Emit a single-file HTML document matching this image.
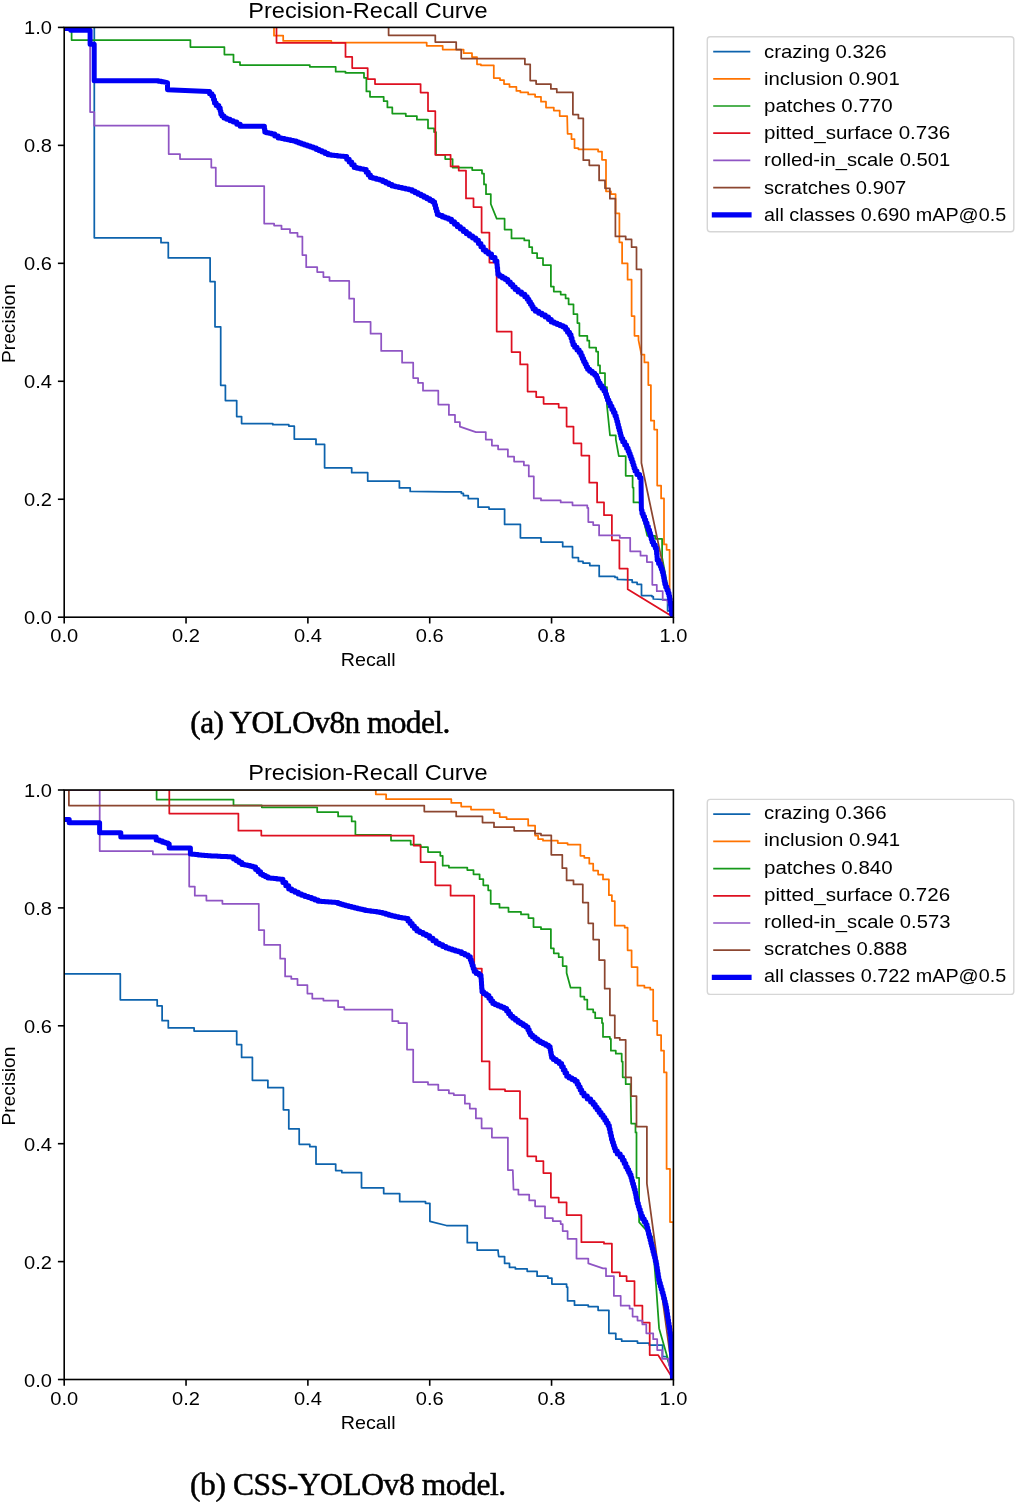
<!DOCTYPE html>
<html><head><meta charset="utf-8"><style>
html,body{margin:0;padding:0;background:#fff;width:1016px;height:1502px;overflow:hidden;}
svg{display:block;} text{-webkit-font-smoothing:antialiased;}
</style></head><body>
<svg width="1016" height="1502" viewBox="0 0 1016 1502" style="will-change:transform">
<rect width="1016" height="1502" fill="#fff"/>
<g><text transform="translate(367.90,17.80) scale(1.07,1)" font-size="22.0" text-anchor="middle" font-family='"Liberation Sans", sans-serif' >Precision-Recall Curve</text><clipPath id="clip0"><rect x="64.2" y="27.4" width="609.1999999999999" height="589.8000000000001"/></clipPath><g clip-path="url(#clip0)"><polyline points="64.2,27.2 94.3,27.2 94.3,237.8 157.0,237.8 161.0,237.8 161.0,242.7 164.0,242.7 168.3,242.7 168.3,247.6 168.3,257.9 210.1,257.9 210.1,281.5 215.0,281.5 215.0,326.8 220.7,326.8 220.7,385.3 225.4,385.3 225.4,400.6 236.7,400.6 236.7,416.6 241.6,416.6 241.6,423.5 272.8,423.5 272.8,424.7 288.8,424.7 288.8,426.0 294.3,426.0 294.3,439.0 316.0,439.0 316.0,444.4 324.6,444.4 324.6,467.8 351.7,467.8 351.7,472.7 367.7,472.7 367.7,481.0 399.4,481.0 399.4,487.9 410.2,487.9 410.2,491.4 445.7,491.8 461.4,491.8 461.4,493.4 463.4,493.4 463.4,495.7 468.3,495.7 468.3,498.7 478.1,498.7 478.1,507.2 489.0,507.2 489.0,509.1 504.6,509.1 504.6,510.6 504.6,524.4 520.4,524.4 520.4,537.8 541.0,537.8 541.0,542.1 562.7,542.1 562.7,546.7 572.5,546.7 572.5,557.5 578.4,557.5 578.4,561.4 583.0,561.4 583.0,563.1 589.8,563.1 589.8,565.6 599.2,565.6 599.2,576.4 615.0,576.4 615.0,577.4 617.4,577.4 617.4,579.4 630.2,579.9 632.2,579.9 632.2,582.3 637.1,582.3 637.1,584.3 641.5,584.3 641.5,595.6 651.9,595.6 651.9,596.6 653.3,596.6 653.3,599.0 662.7,599.5 667.6,599.5 667.6,610.9 673.4,610.9 673.4,617.2" fill="none" stroke="#0d63ad" stroke-width="1.75" stroke-linejoin="round" stroke-linecap="square"/><polyline points="64.2,27.0 274.0,27.0 274.0,35.7 283.2,35.7 283.2,40.9 331.3,40.9 331.3,42.6 426.7,42.6 426.7,45.8 442.7,45.8 442.7,49.5 463.6,49.5 463.6,53.2 472.0,53.2 472.0,57.0 477.0,57.0 477.0,64.3 480.9,64.3 480.9,65.3 493.8,65.3 493.8,78.0 500.0,78.0 500.0,80.0 504.0,80.0 504.0,84.0 509.5,84.0 509.5,86.9 516.4,86.9 516.4,90.9 520.4,90.9 520.4,92.4 528.2,92.4 528.2,94.4 535.1,94.4 535.1,96.8 541.0,96.8 541.0,101.7 546.0,101.7 546.0,107.6 553.8,107.6 553.8,110.6 559.7,110.6 559.7,116.0 567.2,116.0 567.2,116.9 567.6,133.8 571.5,133.8 571.5,139.1 574.5,139.1 574.5,148.0 578.4,148.0 578.4,149.3 598.1,149.3 598.1,151.5 602.0,151.5 602.0,159.8 606.0,159.8 606.0,191.3 610.9,191.3 610.9,194.2 615.6,194.2 615.6,213.4 619.4,213.4 619.4,242.3 622.1,242.3 622.1,263.4 627.6,263.4 627.6,279.7 631.6,279.7 631.6,316.1 634.5,316.1 634.5,335.8 638.5,335.8 638.5,340.2 641.4,354.5 644.4,354.5 644.4,362.4 648.3,362.4 648.3,385.0 650.9,385.0 650.9,420.7 654.2,420.7 654.2,429.5 657.2,429.5 657.2,485.6 661.1,485.6 661.1,498.4 664.0,498.4 664.0,544.4 666.6,544.4 666.6,549.8 669.6,549.8 669.6,595.1 673.4,617.2" fill="none" stroke="#ff7300" stroke-width="1.75" stroke-linejoin="round" stroke-linecap="square"/><polyline points="64.2,27.2 71.6,27.2 71.6,40.1 190.4,40.1 190.4,47.0 224.4,47.0 224.4,54.5 233.5,54.5 233.5,62.0 240.0,62.0 240.0,65.0 309.8,65.0 309.8,66.8 335.7,66.8 335.7,71.7 345.5,71.7 345.5,72.9 364.0,72.9 364.0,77.8 366.4,77.8 366.4,91.4 370.0,91.4 370.0,96.8 383.7,96.8 383.7,101.2 387.4,101.2 387.4,107.4 392.3,107.4 392.3,113.5 405.8,113.5 405.8,116.0 416.9,116.0 416.9,119.7 428.0,119.7 428.0,128.3 434.1,128.3 434.1,132.0 436.0,132.0 436.0,154.8 445.2,154.8 445.2,159.0 452.6,159.0 452.6,167.6 472.2,167.6 472.2,170.0 482.0,170.0 482.0,173.5 484.0,173.5 484.0,184.4 486.0,184.4 486.0,194.2 490.8,194.2 490.8,204.0 496.7,218.7 504.6,218.7 504.6,229.5 511.5,229.5 511.5,238.4 524.3,238.4 524.3,240.4 529.2,240.4 529.2,247.2 532.2,247.2 532.2,253.1 537.1,253.1 537.1,258.0 543.0,258.0 543.0,265.0 550.9,265.0 550.9,268.9 550.9,286.6 553.8,286.6 553.8,291.5 560.7,291.5 560.7,294.5 565.6,294.5 565.6,298.4 568.6,298.4 568.6,304.3 573.5,304.3 573.5,314.2 577.4,314.2 577.4,323.0 579.4,323.0 579.4,335.8 587.3,335.8 587.3,340.7 589.3,340.7 589.3,347.6 596.1,347.6 596.1,351.6 598.1,351.6 598.1,365.4 600.0,365.4 600.0,373.2 605.0,373.2 605.0,379.0 605.0,387.0 607.0,387.0 607.0,406.0 610.0,435.4 615.8,435.4 615.8,439.4 618.8,456.1 625.7,456.1 625.7,475.8 632.6,475.8 632.6,487.6 633.5,487.6 633.5,502.4 639.4,502.4 647.3,535.8 655.2,535.8 655.2,538.8 662.1,538.8 662.1,543.7 662.1,557.5 673.4,617.2" fill="none" stroke="#16991a" stroke-width="1.75" stroke-linejoin="round" stroke-linecap="square"/><polyline points="64.2,27.0 276.5,27.0 276.5,42.8 345.5,42.8 345.5,56.9 352.2,56.9 352.2,68.0 367.7,68.0 367.7,79.0 375.0,79.0 375.0,84.0 420.6,84.0 420.6,92.6 428.0,92.6 428.0,111.0 435.3,111.0 435.3,154.8 450.6,154.8 450.6,166.4 458.7,166.4 458.7,170.6 466.0,170.6 466.0,198.4 473.5,198.4 473.5,207.0 481.6,207.0 481.6,232.5 489.4,232.5 489.4,262.6 496.7,262.6 496.7,331.5 511.6,331.5 511.6,333.7 511.6,352.1 520.2,352.1 520.2,364.4 527.6,364.4 527.6,391.5 536.2,391.5 536.2,397.1 543.6,397.1 543.6,403.8 558.7,403.8 558.7,407.5 566.6,407.5 566.6,426.6 573.5,426.6 573.5,443.3 581.4,443.3 581.4,455.5 589.3,455.5 589.3,482.7 597.1,482.7 597.1,502.4 604.0,502.4 604.0,515.2 611.9,515.2 611.9,540.3 619.4,540.3 619.4,568.5 627.7,568.5 627.7,589.2 673.4,617.2" fill="none" stroke="#de1020" stroke-width="1.75" stroke-linejoin="round" stroke-linecap="square"/><polyline points="64.2,27.2 90.1,27.2 90.1,112.1 94.3,112.1 94.3,125.7 168.7,125.7 168.7,154.0 180.0,154.0 180.0,159.0 211.3,159.0 211.3,167.6 215.8,167.6 215.8,186.0 264.2,186.0 264.2,223.5 274.1,223.5 274.1,225.5 281.5,225.5 281.5,229.2 290.0,229.2 290.0,232.8 297.5,232.8 297.5,236.5 302.4,236.5 302.4,237.8 302.4,255.0 306.2,255.0 306.2,267.2 317.2,267.2 317.2,272.1 323.4,272.1 323.4,277.1 329.5,277.1 329.5,280.8 349.2,280.8 349.2,298.7 354.1,298.7 354.1,321.9 370.6,321.9 370.6,333.7 381.2,333.7 381.2,350.9 397.2,350.9 402.1,350.9 402.1,355.8 402.1,362.7 413.2,362.7 413.2,378.0 418.1,378.0 418.1,382.9 423.0,382.9 423.0,390.7 438.3,390.7 438.3,404.5 448.9,404.5 448.9,414.9 455.0,414.9 455.0,422.2 459.9,422.2 459.9,426.7 475.9,432.1 485.8,432.1 485.8,439.5 491.9,439.5 491.9,445.6 498.1,445.6 498.1,449.3 507.9,449.3 507.9,456.7 514.1,456.7 514.1,461.6 523.9,461.6 523.9,465.3 528.8,465.3 528.8,476.4 533.8,476.4 533.8,498.4 541.0,498.4 541.0,500.4 560.7,500.4 560.7,502.4 572.5,502.4 572.5,505.3 587.3,505.3 587.3,507.9 588.3,507.9 588.3,522.0 593.2,522.0 593.2,525.0 599.1,525.0 599.1,535.4 619.8,535.4 619.8,537.8 630.2,537.8 630.2,540.7 630.2,551.3 640.5,551.3 640.5,555.7 646.9,555.7 646.9,562.1 652.3,562.1 652.3,584.8 656.8,584.8 656.8,591.2 662.7,591.2 662.7,600.0 667.1,600.0 673.4,617.2" fill="none" stroke="#8f55c4" stroke-width="1.75" stroke-linejoin="round" stroke-linecap="square"/><polyline points="64.2,27.0 388.6,27.0 388.6,35.3 435.3,35.3 435.3,42.1 456.2,42.1 456.2,49.5 461.2,49.5 461.2,58.5 524.9,58.5 524.9,64.3 530.2,64.3 530.2,80.6 536.1,80.6 536.1,84.0 550.9,84.0 550.9,88.9 556.8,88.9 556.8,92.4 572.9,92.4 572.9,114.5 578.4,114.5 578.4,118.4 583.3,118.4 583.3,160.2 589.3,160.2 589.3,165.3 599.1,165.3 599.1,180.4 605.0,180.4 605.0,188.3 609.9,188.3 609.9,198.7 615.4,198.7 615.4,236.4 625.7,236.4 625.7,239.4 631.6,239.4 631.6,247.2 636.5,247.2 636.5,269.3 641.4,269.3 641.4,463.0 662.1,561.4 673.4,617.2" fill="none" stroke="#8c4630" stroke-width="1.75" stroke-linejoin="round" stroke-linecap="square"/><polyline points="64.2,28.5 70.0,28.5 70.8,28.5 70.8,30.2 71.5,30.2 90.1,30.2 90.1,44.2 94.2,44.2 94.2,80.8 156.8,80.8 158.4,80.8 158.4,81.3 161.4,81.3 161.4,81.8 163.0,81.8 167.5,82.6 167.5,89.7 208.5,91.4 209.6,91.4 209.6,93.7 211.9,93.7 211.9,96.0 213.0,96.0 213.5,96.0 213.5,99.5 214.5,99.5 214.5,103.0 215.0,103.0 216.2,103.0 216.2,105.5 218.8,105.5 218.8,108.0 220.0,108.0 220.2,108.0 220.2,111.0 220.8,111.0 220.8,114.0 221.0,114.0 222.0,114.0 222.0,116.0 224.0,116.0 224.0,118.0 225.0,118.0 226.7,118.0 226.7,119.3 230.0,119.3 230.0,120.7 233.3,120.7 233.3,122.0 235.0,122.0 236.8,122.0 236.8,124.2 240.2,124.2 240.2,126.3 242.0,126.3 264.2,126.3 264.4,126.3 264.4,129.2 264.8,129.2 264.8,132.0 265.0,132.0 266.3,132.0 266.3,132.7 269.0,132.7 269.0,133.3 271.7,133.3 271.7,134.0 273.0,134.0 274.8,134.0 274.8,136.0 278.2,136.0 278.2,138.0 280.0,138.0 281.5,138.0 281.5,138.6 284.5,138.6 284.5,139.2 287.5,139.2 287.5,139.8 290.5,139.8 290.5,140.4 293.5,140.4 293.5,141.0 295.0,141.0 296.2,141.0 296.2,142.0 298.8,142.0 298.8,143.0 300.0,143.0 301.5,143.0 301.5,144.0 304.4,144.0 304.4,145.0 307.4,145.0 307.4,146.0 310.4,146.0 310.4,147.0 313.3,147.0 313.3,148.0 314.8,148.0 316.3,148.0 316.3,149.4 319.2,149.4 319.2,150.7 322.1,150.7 322.1,152.1 325.1,152.1 325.1,153.4 328.0,153.4 328.0,154.8 329.5,154.8 331.1,154.8 331.1,155.2 334.3,155.2 334.3,155.5 337.5,155.5 337.5,155.9 340.7,155.9 340.7,156.2 343.9,156.2 343.9,156.6 345.5,156.6 346.7,156.6 346.7,159.3 349.2,159.3 349.2,162.1 351.7,162.1 351.7,164.8 354.2,164.8 354.2,167.6 355.4,167.6 357.0,167.6 357.0,168.3 360.3,168.3 360.3,168.9 363.6,168.9 363.6,169.6 365.2,169.6 366.2,169.6 366.2,172.2 368.3,172.2 368.3,174.9 370.4,174.9 370.4,177.5 371.4,177.5 373.0,177.5 373.0,178.3 376.3,178.3 376.3,179.2 379.6,179.2 379.6,180.0 381.2,180.0 382.7,180.0 382.7,181.5 385.8,181.5 385.8,183.0 388.9,183.0 388.9,184.5 392.0,184.5 392.0,186.0 393.5,186.0 395.2,186.0 395.2,186.8 398.7,186.8 398.7,187.5 402.1,187.5 402.1,188.3 405.5,188.3 405.5,189.0 409.0,189.0 409.0,189.8 410.7,189.8 412.2,189.8 412.2,191.3 415.1,191.3 415.1,192.8 418.1,192.8 418.1,194.2 421.1,194.2 421.1,195.7 424.0,195.7 424.0,197.2 425.5,197.2 426.9,197.2 426.9,198.8 429.8,198.8 429.8,200.4 432.7,200.4 432.7,202.0 434.1,202.0 434.6,202.0 434.6,205.1 435.5,205.1 435.5,208.2 436.4,208.2 436.4,211.3 437.3,211.3 437.3,214.4 437.8,214.4 439.3,214.4 439.3,215.6 442.4,215.6 442.4,216.9 445.4,216.9 445.4,218.1 448.5,218.1 448.5,219.3 450.0,219.3 451.5,219.3 451.5,221.8 454.5,221.8 454.5,224.2 457.4,224.2 457.4,226.7 460.4,226.7 460.4,229.1 463.4,229.1 463.4,231.6 464.9,231.6 466.4,231.6 466.4,233.8 469.5,233.8 469.5,235.9 472.6,235.9 472.6,238.0 475.7,238.0 475.7,240.2 477.2,240.2 478.4,240.2 478.4,243.5 480.9,243.5 480.9,246.7 483.3,246.7 483.3,250.0 484.5,250.0 485.8,250.0 485.8,252.1 488.5,252.1 488.5,254.1 489.8,254.1 491.5,254.1 491.5,257.6 495.0,257.6 495.0,261.0 496.7,261.0 496.9,261.0 496.9,264.4 497.2,264.4 497.2,267.8 497.6,267.8 497.6,271.2 497.9,271.2 497.9,274.6 498.1,274.6 499.5,274.6 499.5,276.2 502.4,276.2 502.4,277.9 505.3,277.9 505.3,279.5 506.7,279.5 507.9,279.5 507.9,282.1 510.3,282.1 510.3,284.6 511.5,284.6 512.8,284.6 512.8,287.0 515.2,287.0 515.2,289.4 516.5,289.4 518.1,289.4 518.1,291.9 521.5,291.9 521.5,294.3 524.8,294.3 524.8,296.8 526.4,296.8 527.2,296.8 527.2,299.3 528.8,299.3 528.8,301.8 530.4,301.8 530.4,304.3 531.2,304.3 531.9,304.3 531.9,306.6 533.1,306.6 533.1,309.0 533.8,309.0 535.4,309.0 535.4,311.2 537.0,311.2 538.7,311.2 538.7,313.2 542.0,313.2 542.0,315.1 545.3,315.1 545.3,317.1 547.0,317.1 548.5,317.1 548.5,319.6 551.3,319.6 551.3,322.0 552.8,322.0 554.3,322.0 554.3,323.2 557.2,323.2 557.2,324.5 560.2,324.5 560.2,325.8 563.1,325.8 563.1,327.0 564.6,327.0 565.6,327.0 565.6,329.6 567.5,329.6 567.5,332.2 569.5,332.2 569.5,334.8 570.5,334.8 571.0,334.8 571.0,338.1 572.0,338.1 572.0,341.4 573.0,341.4 573.0,344.7 573.5,344.7 574.6,344.7 574.6,347.3 577.0,347.3 577.0,350.0 579.2,350.0 579.2,352.6 580.4,352.6 581.0,352.6 581.0,355.5 582.3,355.5 582.3,358.5 583.6,358.5 583.6,361.4 584.3,361.4 585.0,361.4 585.0,364.0 586.3,364.0 586.3,366.7 587.6,366.7 587.6,369.3 588.3,369.3 589.6,369.3 589.6,371.3 592.2,371.3 592.2,373.2 594.8,373.2 594.8,375.2 596.1,375.2 596.6,375.2 596.6,377.8 597.6,377.8 597.6,380.4 598.6,380.4 598.6,383.0 599.1,383.0 600.1,383.0 600.1,385.7 602.0,385.7 602.0,388.3 604.0,388.3 604.0,391.0 605.0,391.0 605.5,391.0 605.5,394.0 606.5,394.0 606.5,397.0 607.5,397.0 607.5,400.0 608.0,400.0 608.8,400.0 608.8,403.1 610.3,403.1 610.3,406.3 611.9,406.3 611.9,409.4 613.5,409.4 613.5,412.6 615.0,412.6 615.0,415.7 615.8,415.7 616.2,415.7 616.2,418.7 616.9,418.7 616.9,421.6 617.7,421.6 617.7,424.6 618.4,424.6 618.4,427.6 618.8,427.6 619.2,427.6 619.2,430.3 619.9,430.3 619.9,433.0 620.6,433.0 620.6,435.7 621.3,435.7 621.3,438.4 621.7,438.4 622.7,438.4 622.7,441.7 624.7,441.7 624.7,444.9 626.6,444.9 626.6,448.2 627.6,448.2 628.1,448.2 628.1,450.9 629.1,450.9 629.1,453.6 630.1,453.6 630.1,456.3 631.1,456.3 631.1,459.0 631.6,459.0 632.1,459.0 632.1,462.0 633.1,462.0 633.1,464.9 634.0,464.9 634.0,467.9 635.0,467.9 635.0,470.9 635.5,470.9 636.9,470.9 636.9,474.4 639.6,474.4 639.6,477.8 641.0,477.8 641.4,510.2 642.0,510.2 642.0,513.4 643.2,513.4 643.2,516.6 644.5,516.6 644.5,519.8 645.7,519.8 645.7,523.0 646.3,523.0 647.0,523.0 647.0,526.5 648.3,526.5 648.3,530.0 649.0,530.0 649.5,530.0 649.5,533.0 650.4,533.0 650.4,536.0 651.2,536.0 651.2,539.0 652.1,539.0 652.1,542.0 652.6,542.0 653.5,542.0 653.5,545.0 655.3,545.0 655.3,548.0 656.2,548.0 656.4,548.0 656.4,551.0 656.6,551.0 656.6,554.0 657.0,554.0 657.0,557.0 657.2,557.0 657.2,560.0 657.4,560.0 658.6,560.0 658.6,563.5 659.8,563.5 660.3,563.5 660.3,566.3 661.3,566.3 661.3,569.1 662.3,569.1 662.3,571.9 662.8,571.9 663.1,571.9 663.1,574.9 663.7,574.9 663.7,577.9 664.2,577.9 664.2,580.9 664.8,580.9 664.8,583.9 665.1,583.9 665.7,583.9 665.7,586.9 666.9,586.9 666.9,589.9 668.1,589.9 668.1,592.9 668.7,592.9 669.0,592.9 669.0,595.9 669.6,595.9 669.6,598.9 670.2,598.9 670.2,601.9 670.5,601.9 670.6,601.9 670.6,604.9 671.0,604.9 671.0,607.8 671.2,607.8 671.2,610.8 671.6,610.8 671.6,613.8 671.7,613.8 672.5,613.8 672.5,617.2 673.4,617.2" fill="none" stroke="#0000f5" stroke-width="5.0" stroke-linejoin="round" stroke-linecap="square"/></g><rect x="64.2" y="27.4" width="609.1999999999999" height="589.8000000000001" fill="none" stroke="#000" stroke-width="1.6"/><line x1="64.20" y1="617.2" x2="64.20" y2="623.5" stroke="#000" stroke-width="1.6"/><line x1="57.900000000000006" y1="617.20" x2="64.2" y2="617.20" stroke="#000" stroke-width="1.6"/><text transform="translate(64.20,642.20) scale(1.08,1)" font-size="18.6" text-anchor="middle" font-family='"Liberation Sans", sans-serif' >0.0</text><text transform="translate(52.00,624.20) scale(1.08,1)" font-size="18.6" text-anchor="end" font-family='"Liberation Sans", sans-serif' >0.0</text><line x1="186.04" y1="617.2" x2="186.04" y2="623.5" stroke="#000" stroke-width="1.6"/><line x1="57.900000000000006" y1="499.24" x2="64.2" y2="499.24" stroke="#000" stroke-width="1.6"/><text transform="translate(186.04,642.20) scale(1.08,1)" font-size="18.6" text-anchor="middle" font-family='"Liberation Sans", sans-serif' >0.2</text><text transform="translate(52.00,506.24) scale(1.08,1)" font-size="18.6" text-anchor="end" font-family='"Liberation Sans", sans-serif' >0.2</text><line x1="307.88" y1="617.2" x2="307.88" y2="623.5" stroke="#000" stroke-width="1.6"/><line x1="57.900000000000006" y1="381.28" x2="64.2" y2="381.28" stroke="#000" stroke-width="1.6"/><text transform="translate(307.88,642.20) scale(1.08,1)" font-size="18.6" text-anchor="middle" font-family='"Liberation Sans", sans-serif' >0.4</text><text transform="translate(52.00,388.28) scale(1.08,1)" font-size="18.6" text-anchor="end" font-family='"Liberation Sans", sans-serif' >0.4</text><line x1="429.72" y1="617.2" x2="429.72" y2="623.5" stroke="#000" stroke-width="1.6"/><line x1="57.900000000000006" y1="263.32" x2="64.2" y2="263.32" stroke="#000" stroke-width="1.6"/><text transform="translate(429.72,642.20) scale(1.08,1)" font-size="18.6" text-anchor="middle" font-family='"Liberation Sans", sans-serif' >0.6</text><text transform="translate(52.00,270.32) scale(1.08,1)" font-size="18.6" text-anchor="end" font-family='"Liberation Sans", sans-serif' >0.6</text><line x1="551.56" y1="617.2" x2="551.56" y2="623.5" stroke="#000" stroke-width="1.6"/><line x1="57.900000000000006" y1="145.36" x2="64.2" y2="145.36" stroke="#000" stroke-width="1.6"/><text transform="translate(551.56,642.20) scale(1.08,1)" font-size="18.6" text-anchor="middle" font-family='"Liberation Sans", sans-serif' >0.8</text><text transform="translate(52.00,152.36) scale(1.08,1)" font-size="18.6" text-anchor="end" font-family='"Liberation Sans", sans-serif' >0.8</text><line x1="673.40" y1="617.2" x2="673.40" y2="623.5" stroke="#000" stroke-width="1.6"/><line x1="57.900000000000006" y1="27.40" x2="64.2" y2="27.40" stroke="#000" stroke-width="1.6"/><text transform="translate(673.40,642.20) scale(1.08,1)" font-size="18.6" text-anchor="middle" font-family='"Liberation Sans", sans-serif' >1.0</text><text transform="translate(52.00,34.40) scale(1.08,1)" font-size="18.6" text-anchor="end" font-family='"Liberation Sans", sans-serif' >1.0</text><text transform="translate(368.20,666.40) scale(1.06,1)" font-size="18.6" text-anchor="middle" font-family='"Liberation Sans", sans-serif' >Recall</text><text transform="translate(15.2,323.60) rotate(-90) scale(1.03,1)" font-size="18.6" text-anchor="middle" font-family='"Liberation Sans", sans-serif'>Precision</text><rect x="707.3" y="36.8" width="306.5" height="195" rx="3" ry="3" fill="#fff" stroke="#d6d6d6" stroke-width="1.4"/><line x1="713.2" y1="51.60" x2="750.3" y2="51.60" stroke="#0d63ad" stroke-width="1.7"/><text transform="translate(764.00,57.60) scale(1.1157,1)" font-size="18.3" text-anchor="start" font-family='"Liberation Sans", sans-serif' >crazing 0.326</text><line x1="713.2" y1="78.80" x2="750.3" y2="78.80" stroke="#ff7300" stroke-width="1.7"/><text transform="translate(764.00,84.80) scale(1.1122,1)" font-size="18.3" text-anchor="start" font-family='"Liberation Sans", sans-serif' >inclusion 0.901</text><line x1="713.2" y1="106.00" x2="750.3" y2="106.00" stroke="#16991a" stroke-width="1.7"/><text transform="translate(764.00,112.00) scale(1.1186,1)" font-size="18.3" text-anchor="start" font-family='"Liberation Sans", sans-serif' >patches 0.770</text><line x1="713.2" y1="133.20" x2="750.3" y2="133.20" stroke="#de1020" stroke-width="1.7"/><text transform="translate(764.00,139.20) scale(1.1231,1)" font-size="18.3" text-anchor="start" font-family='"Liberation Sans", sans-serif' >pitted_surface 0.736</text><line x1="713.2" y1="160.40" x2="750.3" y2="160.40" stroke="#8f55c4" stroke-width="1.7"/><text transform="translate(764.00,166.40) scale(1.1027,1)" font-size="18.3" text-anchor="start" font-family='"Liberation Sans", sans-serif' >rolled-in_scale 0.501</text><line x1="713.2" y1="187.60" x2="750.3" y2="187.60" stroke="#8c4630" stroke-width="1.7"/><text transform="translate(764.00,193.60) scale(1.1018,1)" font-size="18.3" text-anchor="start" font-family='"Liberation Sans", sans-serif' >scratches 0.907</text><line x1="711.8" y1="214.80" x2="751.6" y2="214.80" stroke="#0000f5" stroke-width="5.2"/><text transform="translate(764.00,220.80) scale(1.0818,1)" font-size="18.3" text-anchor="start" font-family='"Liberation Sans", sans-serif' >all classes 0.690 mAP@0.5</text></g><g><text transform="translate(367.90,780.40) scale(1.07,1)" font-size="22.0" text-anchor="middle" font-family='"Liberation Sans", sans-serif' >Precision-Recall Curve</text><clipPath id="clip1"><rect x="64.2" y="790.0" width="609.1999999999999" height="589.5"/></clipPath><g clip-path="url(#clip1)"><polyline points="64.2,973.9 120.3,973.9 120.3,999.8 157.2,999.8 157.2,1005.9 162.1,1005.9 162.1,1020.7 168.3,1020.7 168.3,1027.9 194.1,1027.9 194.1,1031.1 236.7,1031.1 236.7,1044.6 241.6,1044.6 241.6,1057.4 252.4,1057.4 252.4,1080.3 267.9,1080.3 267.9,1087.7 283.4,1087.7 283.4,1109.8 288.8,1109.8 288.8,1128.8 299.2,1128.8 299.2,1144.3 309.8,1144.3 309.8,1146.7 316.0,1146.7 316.0,1164.0 335.7,1164.0 335.7,1170.6 341.8,1170.6 341.8,1172.6 361.5,1172.6 361.5,1187.8 383.7,1187.8 383.7,1193.5 399.7,1193.5 399.7,1201.6 425.5,1201.6 425.5,1203.3 429.9,1203.3 429.9,1221.3 446.4,1225.5 467.3,1225.5 467.3,1242.7 477.2,1242.7 477.2,1250.1 498.1,1250.1 498.1,1251.3 498.7,1256.5 504.6,1256.5 504.6,1263.4 509.5,1263.4 509.5,1267.4 515.4,1267.4 515.4,1268.9 527.2,1268.9 527.2,1271.3 537.1,1271.3 537.1,1276.2 547.9,1276.2 547.9,1278.2 551.9,1278.2 551.9,1284.1 566.6,1284.1 566.6,1287.0 567.6,1287.0 567.6,1300.8 574.5,1300.8 574.5,1305.2 588.3,1305.2 588.3,1306.7 598.1,1306.7 598.1,1310.3 608.9,1310.3 608.9,1312.6 608.9,1333.3 615.8,1333.3 615.8,1339.2 621.7,1339.2 621.7,1341.2 637.5,1341.2 637.5,1343.1 649.3,1343.1 649.3,1345.1 662.6,1345.1 662.6,1347.1 662.6,1356.6 666.9,1356.6 673.4,1379.5" fill="none" stroke="#0d63ad" stroke-width="1.75" stroke-linejoin="round" stroke-linecap="square"/><polyline points="64.2,789.6 375.8,789.6 375.8,794.3 386.1,794.3 386.1,799.2 451.3,799.2 451.3,802.9 461.2,802.9 461.2,806.6 471.0,806.6 471.0,809.6 493.8,809.6 493.8,813.1 499.7,813.1 499.7,817.0 506.6,817.0 506.6,819.0 528.2,819.0 528.2,825.7 535.1,825.7 535.1,835.5 538.1,835.5 538.1,839.1 543.0,839.1 543.0,840.7 557.8,840.7 557.8,843.0 567.6,843.0 567.6,844.6 580.4,844.6 580.4,855.8 584.3,855.8 584.3,857.8 589.3,857.8 589.3,863.7 593.2,863.7 593.2,870.6 598.1,870.6 598.1,874.5 603.0,874.5 603.0,879.4 608.9,879.4 608.9,895.2 611.9,895.2 611.9,901.1 614.8,901.1 614.8,925.7 624.7,925.7 624.7,927.7 627.6,927.7 627.6,933.6 627.6,950.3 631.6,950.3 631.6,967.0 637.5,967.0 637.5,985.7 644.4,985.7 644.4,987.7 650.3,987.7 650.3,989.7 653.2,989.7 653.2,1020.8 657.2,1020.8 657.2,1035.0 661.1,1035.0 661.1,1050.7 664.0,1050.7 664.0,1072.4 666.6,1072.4 666.6,1168.9 670.0,1168.9 670.0,1222.1 671.9,1222.1 673.4,1222.1 673.4,1379.5" fill="none" stroke="#ff7300" stroke-width="1.75" stroke-linejoin="round" stroke-linecap="square"/><polyline points="64.2,789.6 156.6,789.6 156.6,799.5 233.5,799.5 233.5,805.4 261.8,805.4 261.8,807.3 317.2,807.3 317.2,812.0 338.1,812.0 338.1,816.4 351.7,816.4 351.7,821.4 355.4,821.4 355.4,834.9 391.0,834.9 391.0,840.6 410.7,840.6 410.7,844.7 420.6,844.7 420.6,847.2 428.0,847.2 428.0,852.1 440.3,852.1 440.3,855.8 442.7,855.8 442.7,865.7 448.9,865.7 448.9,867.6 467.3,867.6 467.3,870.1 473.5,870.1 473.5,874.3 479.6,874.3 479.6,879.2 483.3,879.2 483.3,885.3 488.2,885.3 488.2,890.3 490.7,890.3 490.7,903.8 499.5,903.8 499.5,907.7 508.5,907.7 508.5,911.9 521.0,911.9 521.0,914.4 528.5,914.4 528.5,918.2 533.5,918.2 533.5,927.0 541.0,927.0 541.0,929.2 550.9,929.2 550.9,932.6 550.9,948.3 553.8,948.3 553.8,953.3 558.7,953.3 558.7,957.2 562.7,957.2 562.7,966.0 566.6,966.0 566.6,973.0 570.6,987.7 578.4,987.7 580.4,987.7 580.4,996.6 584.3,996.6 584.3,999.5 587.3,999.5 587.3,1009.4 593.2,1009.4 593.2,1012.3 595.2,1012.3 595.2,1018.2 602.0,1018.2 602.0,1023.1 603.0,1023.1 603.0,1036.9 609.9,1036.9 609.9,1038.9 610.9,1038.9 610.9,1050.7 615.8,1050.7 615.8,1053.7 621.7,1053.7 621.7,1061.5 622.7,1061.5 622.7,1077.3 625.7,1077.3 625.7,1084.2 630.6,1084.2 630.6,1089.1 631.2,1123.5 635.5,1123.5 635.5,1132.4 636.5,1132.4 636.5,1177.8 639.1,1177.8 639.1,1222.1 652.2,1236.9 656.2,1287.0 659.1,1328.4 671.0,1369.7 673.4,1369.7 673.4,1379.5" fill="none" stroke="#16991a" stroke-width="1.75" stroke-linejoin="round" stroke-linecap="square"/><polyline points="64.2,789.6 169.3,789.6 169.3,813.5 238.4,813.5 238.4,830.7 261.3,830.7 261.3,835.6 413.7,835.6 413.7,845.5 420.6,845.5 420.6,862.0 435.3,862.0 435.3,885.3 450.6,885.3 450.6,895.7 474.2,895.7 474.2,968.5 481.8,968.5 481.8,1061.4 489.5,1061.4 489.5,1089.3 505.0,1089.3 505.0,1091.0 520.0,1091.0 520.0,1118.5 527.4,1118.5 527.4,1156.3 536.2,1156.3 536.2,1161.0 543.4,1161.0 543.4,1173.0 550.9,1173.0 550.9,1197.5 558.7,1197.5 558.7,1202.4 566.6,1202.4 566.6,1215.2 581.4,1215.2 581.4,1242.2 604.0,1242.2 604.0,1243.7 611.9,1243.7 611.9,1272.3 619.8,1272.3 619.8,1276.2 626.6,1276.2 626.6,1281.1 634.5,1281.1 634.5,1305.7 642.4,1305.7 642.4,1322.5 649.7,1322.5 649.7,1355.0 658.1,1355.0 673.4,1379.5" fill="none" stroke="#de1020" stroke-width="1.75" stroke-linejoin="round" stroke-linecap="square"/><polyline points="64.2,789.6 99.7,789.6 99.7,851.0 152.9,851.0 152.9,854.3 189.2,854.3 189.2,886.6 194.8,886.6 194.8,895.7 206.4,895.7 206.4,900.6 222.4,900.6 222.4,903.8 258.8,903.8 258.8,930.1 264.2,930.1 264.2,944.9 280.2,944.9 280.2,958.7 285.1,958.7 285.1,976.4 291.3,976.4 291.3,978.9 297.5,978.9 297.5,985.0 307.4,985.0 307.4,993.6 312.3,993.6 312.3,998.5 323.4,998.5 323.4,1000.5 338.1,1000.5 338.1,1007.1 344.3,1007.1 344.3,1009.6 392.3,1009.6 392.3,1021.2 398.4,1021.2 398.4,1023.1 407.0,1023.1 407.0,1049.5 413.2,1049.5 413.2,1082.0 428.0,1082.0 428.0,1084.5 438.3,1084.5 438.3,1090.1 448.9,1090.1 448.9,1093.3 453.8,1093.3 453.8,1095.0 464.9,1095.0 464.9,1103.7 469.8,1103.7 469.8,1108.6 475.9,1108.6 475.9,1118.4 481.6,1118.4 481.6,1128.3 491.9,1128.3 491.9,1137.6 507.9,1137.6 507.9,1170.1 512.8,1170.1 513.5,1189.5 518.4,1189.5 518.4,1194.5 529.2,1194.5 529.2,1200.4 535.1,1200.4 535.1,1206.3 545.0,1206.3 545.0,1218.1 552.8,1218.1 552.8,1221.1 560.7,1221.1 560.7,1224.1 562.7,1224.1 562.7,1231.0 567.6,1231.0 567.6,1238.8 576.5,1238.8 576.5,1242.8 576.5,1258.5 588.3,1258.5 588.3,1263.4 603.0,1268.3 606.0,1268.3 606.0,1276.2 613.9,1276.2 613.9,1280.2 613.9,1295.9 620.7,1295.9 620.7,1305.7 629.6,1305.7 629.6,1308.7 632.6,1308.7 632.6,1316.6 637.5,1316.6 637.5,1320.5 642.4,1320.5 642.4,1324.4 646.3,1324.4 646.3,1333.3 653.2,1333.3 653.2,1339.2 657.2,1339.2 657.2,1350.0 662.1,1350.0 662.1,1358.9 669.0,1358.9 669.0,1363.8 673.4,1379.5" fill="none" stroke="#8f55c4" stroke-width="1.75" stroke-linejoin="round" stroke-linecap="square"/><polyline points="64.2,789.6 68.9,789.6 68.9,805.6 424.3,805.6 424.3,811.5 456.2,811.5 456.2,816.4 482.5,816.4 482.5,822.5 494.0,822.5 494.0,827.2 514.2,827.2 514.2,830.8 535.0,830.8 535.0,833.7 541.0,833.7 541.0,835.3 551.3,835.3 551.3,854.8 562.3,854.8 562.3,868.2 566.6,868.2 566.6,880.4 573.5,880.4 573.5,884.4 582.8,884.4 582.8,902.5 588.3,902.5 588.3,923.3 593.2,923.3 593.2,939.5 599.1,939.5 599.1,960.1 604.7,960.1 604.7,988.7 609.9,988.7 609.9,1015.3 614.8,1015.3 614.8,1037.9 619.8,1037.9 619.8,1039.9 625.7,1039.9 625.7,1077.3 631.2,1077.3 631.2,1096.0 636.5,1096.0 636.5,1126.5 646.9,1126.5 646.9,1183.7 671.0,1361.9 673.4,1361.9 673.4,1379.5" fill="none" stroke="#8c4630" stroke-width="1.75" stroke-linejoin="round" stroke-linecap="square"/><polyline points="64.2,819.6 68.3,819.6 69.2,819.6 69.2,822.7 70.0,822.7 99.6,822.7 99.6,832.8 120.8,832.8 120.8,836.9 154.5,836.9 156.2,836.9 156.2,839.9 158.0,839.9 159.5,839.9 159.5,841.0 162.5,841.0 162.5,842.2 164.0,842.2 165.3,842.2 165.3,843.1 167.9,843.1 167.9,844.0 169.2,844.0 169.2,848.1 190.4,848.1 190.4,853.9 191.9,853.9 191.9,854.2 195.0,854.2 195.0,854.6 198.1,854.6 198.1,854.9 201.2,854.9 201.2,855.3 202.7,855.3 204.3,855.3 204.3,855.5 207.6,855.5 207.6,855.7 210.9,855.7 210.9,855.9 214.2,855.9 214.2,856.1 217.4,856.1 217.4,856.2 220.7,856.2 220.7,856.4 224.0,856.4 224.0,856.6 227.3,856.6 227.3,856.8 230.6,856.8 230.6,857.0 232.2,857.0 233.6,857.0 233.6,858.9 236.4,858.9 236.4,860.7 239.1,860.7 239.1,862.5 241.9,862.5 241.9,864.4 243.3,864.4 244.7,864.4 244.7,865.0 247.5,865.0 247.5,865.6 250.2,865.6 250.2,866.3 253.0,866.3 253.0,866.9 254.4,866.9 255.6,866.9 255.6,869.4 258.1,869.4 258.1,871.8 260.6,871.8 260.6,874.3 261.8,874.3 263.0,874.3 263.0,875.5 265.5,875.5 265.5,876.8 268.0,876.8 268.0,878.0 269.2,878.0 270.7,878.0 270.7,878.3 273.8,878.3 273.8,878.6 276.9,878.6 276.9,878.9 280.0,878.9 280.0,879.2 281.5,879.2 282.9,879.2 282.9,882.5 285.8,882.5 285.8,885.7 288.7,885.7 288.7,889.0 290.1,889.0 291.7,889.0 291.7,890.7 295.0,890.7 295.0,892.3 298.3,892.3 298.3,894.0 299.9,894.0 301.6,894.0 301.6,895.2 304.9,895.2 304.9,896.4 308.3,896.4 308.3,897.6 310.0,897.6 311.6,897.6 311.6,898.8 314.9,898.8 314.9,900.1 318.1,900.1 318.1,901.3 319.7,901.3 321.4,901.3 321.4,901.6 324.9,901.6 324.9,901.8 328.3,901.8 328.3,902.1 331.7,902.1 331.7,902.3 335.2,902.3 335.2,902.6 336.9,902.6 338.1,902.6 338.1,903.4 340.6,903.4 340.6,904.2 343.1,904.2 343.1,905.0 344.3,905.0 345.8,905.0 345.8,905.7 348.7,905.7 348.7,906.5 351.7,906.5 351.7,907.2 354.7,907.2 354.7,908.0 357.6,908.0 357.6,908.7 359.1,908.7 360.3,908.7 360.3,909.3 362.8,909.3 362.8,909.8 365.2,909.8 365.2,910.4 366.4,910.4 367.9,910.4 367.9,910.8 370.8,910.8 370.8,911.2 373.8,911.2 373.8,911.6 376.8,911.6 376.8,912.0 379.7,912.0 379.7,912.4 381.2,912.4 382.7,912.4 382.7,913.3 385.8,913.3 385.8,914.2 388.9,914.2 388.9,915.2 392.0,915.2 392.0,916.1 393.5,916.1 395.2,916.1 395.2,916.7 398.6,916.7 398.6,917.4 401.9,917.4 401.9,918.0 405.3,918.0 405.3,918.6 407.0,918.6 408.0,918.6 408.0,921.1 410.1,921.1 410.1,923.5 412.2,923.5 412.2,926.0 413.2,926.0 414.4,926.0 414.4,928.5 416.9,928.5 416.9,930.9 418.1,930.9 419.8,930.9 419.8,932.5 423.1,932.5 423.1,934.2 426.4,934.2 426.4,935.8 428.0,935.8 429.6,935.8 429.6,938.3 432.9,938.3 432.9,940.7 436.2,940.7 436.2,943.2 437.8,943.2 439.4,943.2 439.4,944.8 442.7,944.8 442.7,946.5 446.0,946.5 446.0,948.1 447.6,948.1 449.1,948.1 449.1,949.0 452.2,949.0 452.2,950.0 455.3,950.0 455.3,950.9 458.4,950.9 458.4,951.8 459.9,951.8 461.5,951.8 461.5,953.4 464.9,953.4 464.9,955.1 468.1,955.1 468.1,956.7 469.8,956.7 470.3,956.7 470.3,959.7 471.3,959.7 471.3,962.6 472.2,962.6 472.2,965.6 473.2,965.6 473.2,968.5 474.2,968.5 474.2,971.5 474.7,971.5 476.2,971.5 476.2,973.4 479.3,973.4 479.3,975.2 480.9,975.2 481.0,975.2 481.0,978.5 481.3,978.5 481.3,981.8 481.5,981.8 481.5,985.1 481.7,985.1 481.7,988.4 482.0,988.4 482.0,991.7 482.1,991.7 483.6,991.7 483.6,993.7 486.4,993.7 486.4,995.6 487.9,995.6 488.9,995.6 488.9,998.2 490.9,998.2 490.9,1000.9 492.8,1000.9 492.8,1003.5 493.8,1003.5 495.3,1003.5 495.3,1004.7 498.2,1004.7 498.2,1006.0 501.2,1006.0 501.2,1007.2 504.1,1007.2 504.1,1008.4 505.6,1008.4 506.6,1008.4 506.6,1011.0 508.6,1011.0 508.6,1013.7 510.5,1013.7 510.5,1016.3 511.5,1016.3 512.8,1016.3 512.8,1018.3 515.5,1018.3 515.5,1020.2 518.1,1020.2 518.1,1022.2 519.4,1022.2 520.7,1022.2 520.7,1023.8 523.3,1023.8 523.3,1025.5 525.9,1025.5 525.9,1027.1 527.2,1027.1 527.9,1027.1 527.9,1029.7 529.2,1029.7 529.2,1032.4 530.5,1032.4 530.5,1035.0 531.2,1035.0 532.5,1035.0 532.5,1037.0 535.1,1037.0 535.1,1038.9 537.7,1038.9 537.7,1040.9 539.0,1040.9 540.4,1040.9 540.4,1042.4 543.1,1042.4 543.1,1043.8 545.8,1043.8 545.8,1045.3 548.5,1045.3 548.5,1046.8 549.9,1046.8 550.1,1046.8 550.1,1049.5 550.6,1049.5 550.6,1052.2 551.1,1052.2 551.1,1054.9 551.6,1054.9 551.6,1057.6 551.9,1057.6 553.4,1057.6 553.4,1059.6 556.3,1059.6 556.3,1061.5 559.2,1061.5 559.2,1063.5 560.7,1063.5 561.6,1063.5 561.6,1066.7 563.3,1066.7 563.3,1069.9 565.0,1069.9 565.0,1073.1 566.7,1073.1 566.7,1076.3 567.6,1076.3 569.1,1076.3 569.1,1077.9 572.0,1077.9 572.0,1079.6 575.0,1079.6 575.0,1081.2 576.5,1081.2 577.2,1081.2 577.2,1084.2 578.7,1084.2 578.7,1087.1 580.2,1087.1 580.2,1090.0 581.7,1090.0 581.7,1093.0 582.4,1093.0 584.0,1093.0 584.0,1096.0 587.3,1096.0 587.3,1098.9 590.6,1098.9 590.6,1101.9 592.2,1101.9 593.2,1101.9 593.2,1104.5 595.2,1104.5 595.2,1107.2 597.1,1107.2 597.1,1109.8 598.1,1109.8 599.1,1109.8 599.1,1112.4 601.0,1112.4 601.0,1115.0 603.0,1115.0 603.0,1117.6 604.0,1117.6 604.8,1117.6 604.8,1120.2 606.5,1120.2 606.5,1122.9 608.1,1122.9 608.1,1125.5 608.9,1125.5 609.3,1125.5 609.3,1129.0 610.0,1129.0 610.0,1132.4 610.8,1132.4 610.8,1135.8 611.5,1135.8 611.5,1139.3 611.9,1139.3 612.4,1139.3 612.4,1142.2 613.4,1142.2 613.4,1145.2 614.3,1145.2 614.3,1148.1 615.3,1148.1 615.3,1151.1 615.8,1151.1 617.3,1151.1 617.3,1154.0 620.2,1154.0 620.2,1157.0 621.7,1157.0 622.5,1157.0 622.5,1160.3 624.2,1160.3 624.2,1163.6 625.8,1163.6 625.8,1166.9 626.6,1166.9 627.3,1166.9 627.3,1169.5 628.6,1169.5 628.6,1172.2 629.9,1172.2 629.9,1174.8 630.6,1174.8 631.0,1174.8 631.0,1177.8 631.8,1177.8 631.8,1180.7 632.6,1180.7 632.6,1183.7 633.5,1183.7 633.5,1186.7 634.3,1186.7 634.3,1189.6 635.1,1189.6 635.1,1192.6 635.5,1192.6 635.7,1192.6 635.7,1195.1 636.1,1195.1 636.1,1197.5 636.6,1197.5 636.6,1200.0 636.8,1200.0 637.3,1200.0 637.3,1203.2 638.3,1203.2 638.3,1206.4 639.2,1206.4 639.2,1209.6 640.2,1209.6 640.2,1212.8 641.2,1212.8 641.2,1216.0 641.7,1216.0 642.5,1216.0 642.5,1218.9 644.2,1218.9 644.2,1221.7 645.8,1221.7 645.8,1224.6 646.6,1224.6 647.0,1224.6 647.0,1227.7 647.8,1227.7 647.8,1230.8 648.5,1230.8 648.5,1233.9 649.3,1233.9 649.3,1237.0 649.7,1237.0 650.1,1237.0 650.1,1239.9 650.8,1239.9 650.8,1242.9 651.5,1242.9 651.5,1245.8 652.3,1245.8 652.3,1248.8 653.0,1248.8 653.0,1251.7 653.4,1251.7 653.8,1251.7 653.8,1254.8 654.6,1254.8 654.6,1257.8 655.3,1257.8 655.3,1260.9 656.1,1260.9 656.1,1264.0 656.5,1264.0 656.7,1264.0 656.7,1267.2 657.2,1267.2 657.2,1270.4 657.7,1270.4 657.7,1273.6 658.2,1273.6 658.2,1276.8 658.7,1276.8 658.7,1280.0 658.9,1280.0 659.4,1280.0 659.4,1283.1 660.3,1283.1 660.3,1286.2 661.2,1286.2 661.2,1289.3 662.1,1289.3 662.1,1292.4 662.6,1292.4 663.0,1292.4 663.0,1295.3 663.7,1295.3 663.7,1298.3 664.5,1298.3 664.5,1301.2 665.2,1301.2 665.2,1304.2 665.9,1304.2 665.9,1307.1 666.3,1307.1 666.5,1307.1 666.5,1310.3 667.0,1310.3 667.0,1313.5 667.5,1313.5 667.5,1316.8 668.0,1316.8 668.0,1320.0 668.5,1320.0 668.5,1323.2 668.8,1323.2 669.0,1323.2 669.0,1326.3 669.5,1326.3 669.5,1329.3 669.9,1329.3 669.9,1332.4 670.4,1332.4 670.4,1335.5 670.6,1335.5 670.7,1335.5 670.7,1338.6 670.8,1338.6 670.8,1341.7 671.0,1341.7 671.0,1344.7 671.2,1344.7 671.2,1347.8 671.3,1347.8 671.3,1350.9 671.5,1350.9 671.5,1353.9 671.7,1353.9 671.7,1357.0 671.8,1357.0 671.8,1360.1 671.9,1360.1 672.5,1378.6 673.0,1378.6 673.0,1379.5 673.4,1379.5" fill="none" stroke="#0000f5" stroke-width="5.0" stroke-linejoin="round" stroke-linecap="square"/></g><rect x="64.2" y="790.0" width="609.1999999999999" height="589.5" fill="none" stroke="#000" stroke-width="1.6"/><line x1="64.20" y1="1379.5" x2="64.20" y2="1385.8" stroke="#000" stroke-width="1.6"/><line x1="57.900000000000006" y1="1379.50" x2="64.2" y2="1379.50" stroke="#000" stroke-width="1.6"/><text transform="translate(64.20,1404.50) scale(1.08,1)" font-size="18.6" text-anchor="middle" font-family='"Liberation Sans", sans-serif' >0.0</text><text transform="translate(52.00,1386.50) scale(1.08,1)" font-size="18.6" text-anchor="end" font-family='"Liberation Sans", sans-serif' >0.0</text><line x1="186.04" y1="1379.5" x2="186.04" y2="1385.8" stroke="#000" stroke-width="1.6"/><line x1="57.900000000000006" y1="1261.60" x2="64.2" y2="1261.60" stroke="#000" stroke-width="1.6"/><text transform="translate(186.04,1404.50) scale(1.08,1)" font-size="18.6" text-anchor="middle" font-family='"Liberation Sans", sans-serif' >0.2</text><text transform="translate(52.00,1268.60) scale(1.08,1)" font-size="18.6" text-anchor="end" font-family='"Liberation Sans", sans-serif' >0.2</text><line x1="307.88" y1="1379.5" x2="307.88" y2="1385.8" stroke="#000" stroke-width="1.6"/><line x1="57.900000000000006" y1="1143.70" x2="64.2" y2="1143.70" stroke="#000" stroke-width="1.6"/><text transform="translate(307.88,1404.50) scale(1.08,1)" font-size="18.6" text-anchor="middle" font-family='"Liberation Sans", sans-serif' >0.4</text><text transform="translate(52.00,1150.70) scale(1.08,1)" font-size="18.6" text-anchor="end" font-family='"Liberation Sans", sans-serif' >0.4</text><line x1="429.72" y1="1379.5" x2="429.72" y2="1385.8" stroke="#000" stroke-width="1.6"/><line x1="57.900000000000006" y1="1025.80" x2="64.2" y2="1025.80" stroke="#000" stroke-width="1.6"/><text transform="translate(429.72,1404.50) scale(1.08,1)" font-size="18.6" text-anchor="middle" font-family='"Liberation Sans", sans-serif' >0.6</text><text transform="translate(52.00,1032.80) scale(1.08,1)" font-size="18.6" text-anchor="end" font-family='"Liberation Sans", sans-serif' >0.6</text><line x1="551.56" y1="1379.5" x2="551.56" y2="1385.8" stroke="#000" stroke-width="1.6"/><line x1="57.900000000000006" y1="907.90" x2="64.2" y2="907.90" stroke="#000" stroke-width="1.6"/><text transform="translate(551.56,1404.50) scale(1.08,1)" font-size="18.6" text-anchor="middle" font-family='"Liberation Sans", sans-serif' >0.8</text><text transform="translate(52.00,914.90) scale(1.08,1)" font-size="18.6" text-anchor="end" font-family='"Liberation Sans", sans-serif' >0.8</text><line x1="673.40" y1="1379.5" x2="673.40" y2="1385.8" stroke="#000" stroke-width="1.6"/><line x1="57.900000000000006" y1="790.00" x2="64.2" y2="790.00" stroke="#000" stroke-width="1.6"/><text transform="translate(673.40,1404.50) scale(1.08,1)" font-size="18.6" text-anchor="middle" font-family='"Liberation Sans", sans-serif' >1.0</text><text transform="translate(52.00,797.00) scale(1.08,1)" font-size="18.6" text-anchor="end" font-family='"Liberation Sans", sans-serif' >1.0</text><text transform="translate(368.20,1428.70) scale(1.06,1)" font-size="18.6" text-anchor="middle" font-family='"Liberation Sans", sans-serif' >Recall</text><text transform="translate(15.2,1086.05) rotate(-90) scale(1.03,1)" font-size="18.6" text-anchor="middle" font-family='"Liberation Sans", sans-serif'>Precision</text><rect x="707.3" y="799.4" width="306.5" height="195" rx="3" ry="3" fill="#fff" stroke="#d6d6d6" stroke-width="1.4"/><line x1="713.2" y1="814.20" x2="750.3" y2="814.20" stroke="#0d63ad" stroke-width="1.7"/><text transform="translate(764.00,819.20) scale(1.1157,1)" font-size="18.3" text-anchor="start" font-family='"Liberation Sans", sans-serif' >crazing 0.366</text><line x1="713.2" y1="841.40" x2="750.3" y2="841.40" stroke="#ff7300" stroke-width="1.7"/><text transform="translate(764.00,846.40) scale(1.1163,1)" font-size="18.3" text-anchor="start" font-family='"Liberation Sans", sans-serif' >inclusion 0.941</text><line x1="713.2" y1="868.60" x2="750.3" y2="868.60" stroke="#16991a" stroke-width="1.7"/><text transform="translate(764.00,873.60) scale(1.1186,1)" font-size="18.3" text-anchor="start" font-family='"Liberation Sans", sans-serif' >patches 0.840</text><line x1="713.2" y1="895.80" x2="750.3" y2="895.80" stroke="#de1020" stroke-width="1.7"/><text transform="translate(764.00,900.80) scale(1.1231,1)" font-size="18.3" text-anchor="start" font-family='"Liberation Sans", sans-serif' >pitted_surface 0.726</text><line x1="713.2" y1="923.00" x2="750.3" y2="923.00" stroke="#8f55c4" stroke-width="1.7"/><text transform="translate(764.00,928.00) scale(1.1045,1)" font-size="18.3" text-anchor="start" font-family='"Liberation Sans", sans-serif' >rolled-in_scale 0.573</text><line x1="713.2" y1="950.20" x2="750.3" y2="950.20" stroke="#8c4630" stroke-width="1.7"/><text transform="translate(764.00,955.20) scale(1.1087,1)" font-size="18.3" text-anchor="start" font-family='"Liberation Sans", sans-serif' >scratches 0.888</text><line x1="711.8" y1="977.40" x2="751.6" y2="977.40" stroke="#0000f5" stroke-width="5.2"/><text transform="translate(764.00,982.40) scale(1.0818,1)" font-size="18.3" text-anchor="start" font-family='"Liberation Sans", sans-serif' >all classes 0.722 mAP@0.5</text></g><text transform="translate(190.30,732.80) scale(1.0,1)" font-size="31.5" text-anchor="start" font-family='"Liberation Serif", serif' stroke="#000" stroke-width="0.5" letter-spacing="-0.64">(a) YOLOv8n model.</text><text transform="translate(190.00,1495.40) scale(1.0,1)" font-size="31.5" text-anchor="start" font-family='"Liberation Serif", serif' stroke="#000" stroke-width="0.5" letter-spacing="-0.42">(b) CSS-YOLOv8 model.</text>
</svg>
</body></html>
